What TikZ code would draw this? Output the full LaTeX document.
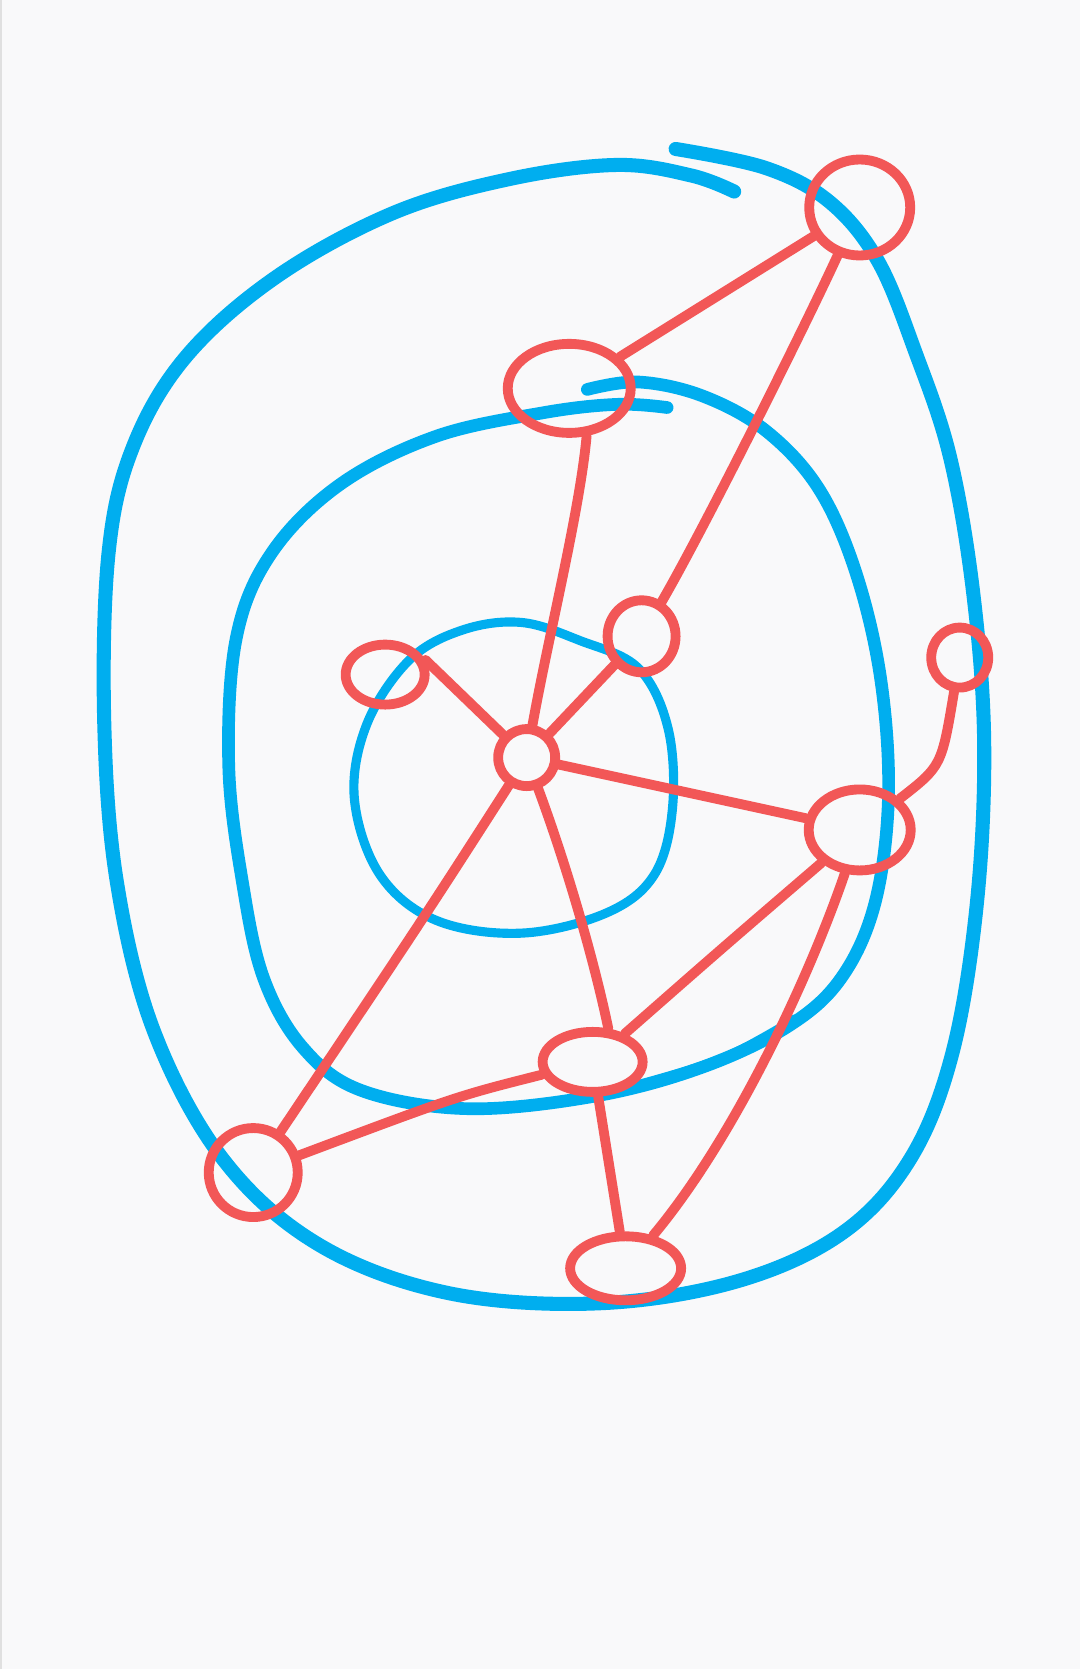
\documentclass[tikz,border=0pt]{standalone}
\usepackage{tikz}
\usetikzlibrary{calc}
\usetikzlibrary{shapes}
\definecolor{sketchblue}{RGB}{0,174,239}
\definecolor{sketchred}{RGB}{242,87,87}
\definecolor{paper}{RGB}{249,249,250}

\begin{document}
\begin{tikzpicture}[x=0.1064mm, y=-0.1064mm, line cap=round, line join=round]
\tikzset{spot/.style={ellipse, draw=sketchred, line width=2.8pt, inner sep=0pt}}
\tikzset{wire/.style={draw=sketchred, line width=2.8pt}}
\tikzset{ring/.style={draw=sketchblue}}
\useasboundingbox (0,0) rectangle (1015,1568.6);
\fill[paper] (0,0) rectangle (1015,1568.6);
\draw[black!12, line width=0.8pt] (1,0) -- (1,1568.6);
% blue loops
\draw[ring, line width=4pt] plot[smooth, tension=0.6] coordinates {(635,140) (720,158) (780,190) (825,245) (860,330) (893,430) (915,560) (925,700) (918,850) (895,990) (855,1090) (790,1160) (690,1205) (560,1225) (420,1215) (300,1170) (210,1090) (145,970) (110,830) (98,680) (102,520) (125,420) (175,335) (260,260) (370,200) (480,168) (580,155) (650,165) (690,180)};
\draw[ring, line width=3.6pt] plot[smooth, tension=0.6] coordinates {(552,366) (600,359) (660,372) (720,405) (770,460) (805,540) (828,640) (835,750) (822,850) (790,920) (740,965) (660,1003) (560,1030) (440,1042) (340,1025) (285,985) (248,920) (228,830) (215,720) (222,600) (255,520) (320,455) (410,410) (510,388) (580,380) (627,383)};
\draw[ring, line width=3pt] plot[smooth, tension=0.6] coordinates {(600,1020) (680,995) (748,958)};
\draw[ring, line width=2.6pt] plot[smooth cycle, tension=0.6] coordinates {(490,585) (545,602) (600,628) (628,685) (632,760) (615,822) (570,858) (490,877) (410,865) (357,822) (333,750) (345,680) (385,620) (435,592)};
% red vertices
\node[spot, minimum width=10.1mm, minimum height=9.6mm] (v1) at (808,195) {};
\node[spot, minimum width=12.3mm, minimum height=8.9mm] (v2) at (535,365) {};
\node[spot, minimum width=5.7mm, minimum height=5.7mm] (v3) at (495,712) {};
\node[spot, minimum width=7.9mm, minimum height=6mm] (v4) at (362,634) {};
\node[spot, minimum width=6.8mm, minimum height=7.2mm] (v5) at (603,598) {};
\node[spot, minimum width=5.7mm, minimum height=6mm] (v6) at (902,618) {};
\node[spot, minimum width=10.2mm, minimum height=8.1mm] (v7) at (808,780) {};
\node[spot, minimum width=10mm, minimum height=6mm] (v8) at (557,998) {};
\node[spot, minimum width=8.9mm, minimum height=8.9mm] (v9) at (238,1102) {};
\node[spot, minimum width=11.1mm, minimum height=6.4mm] (v10) at (588,1192) {};
% red edges
\draw[wire] (v1) -- (v2);
\draw[wire] (v1) .. controls (755,310) and (660,500) .. (v5);
\draw[wire] (v2.-70) .. controls (545,480) and (515,600) .. (v3);
\draw[wire] (v5) -- (v3);
\draw[wire] (v4.20) -- (v3);
\draw[wire] (v3) -- (v7);
\draw[wire] (v3) .. controls (535,820) and (560,910) .. (v8.65);
\draw[wire] (v3) .. controls (400,860) .. (v9);
\draw[wire] (v7) .. controls (680,890) .. (v8);
\draw[wire] (v7) .. controls (760,920) and (690,1070) .. (v10);
\draw[wire] (v8) .. controls (430,1030) .. (v9);
\draw[wire] (v8) -- (v10);
\draw[wire] (v6) .. controls (885,720) .. (v7);
\end{tikzpicture}
\end{document}
